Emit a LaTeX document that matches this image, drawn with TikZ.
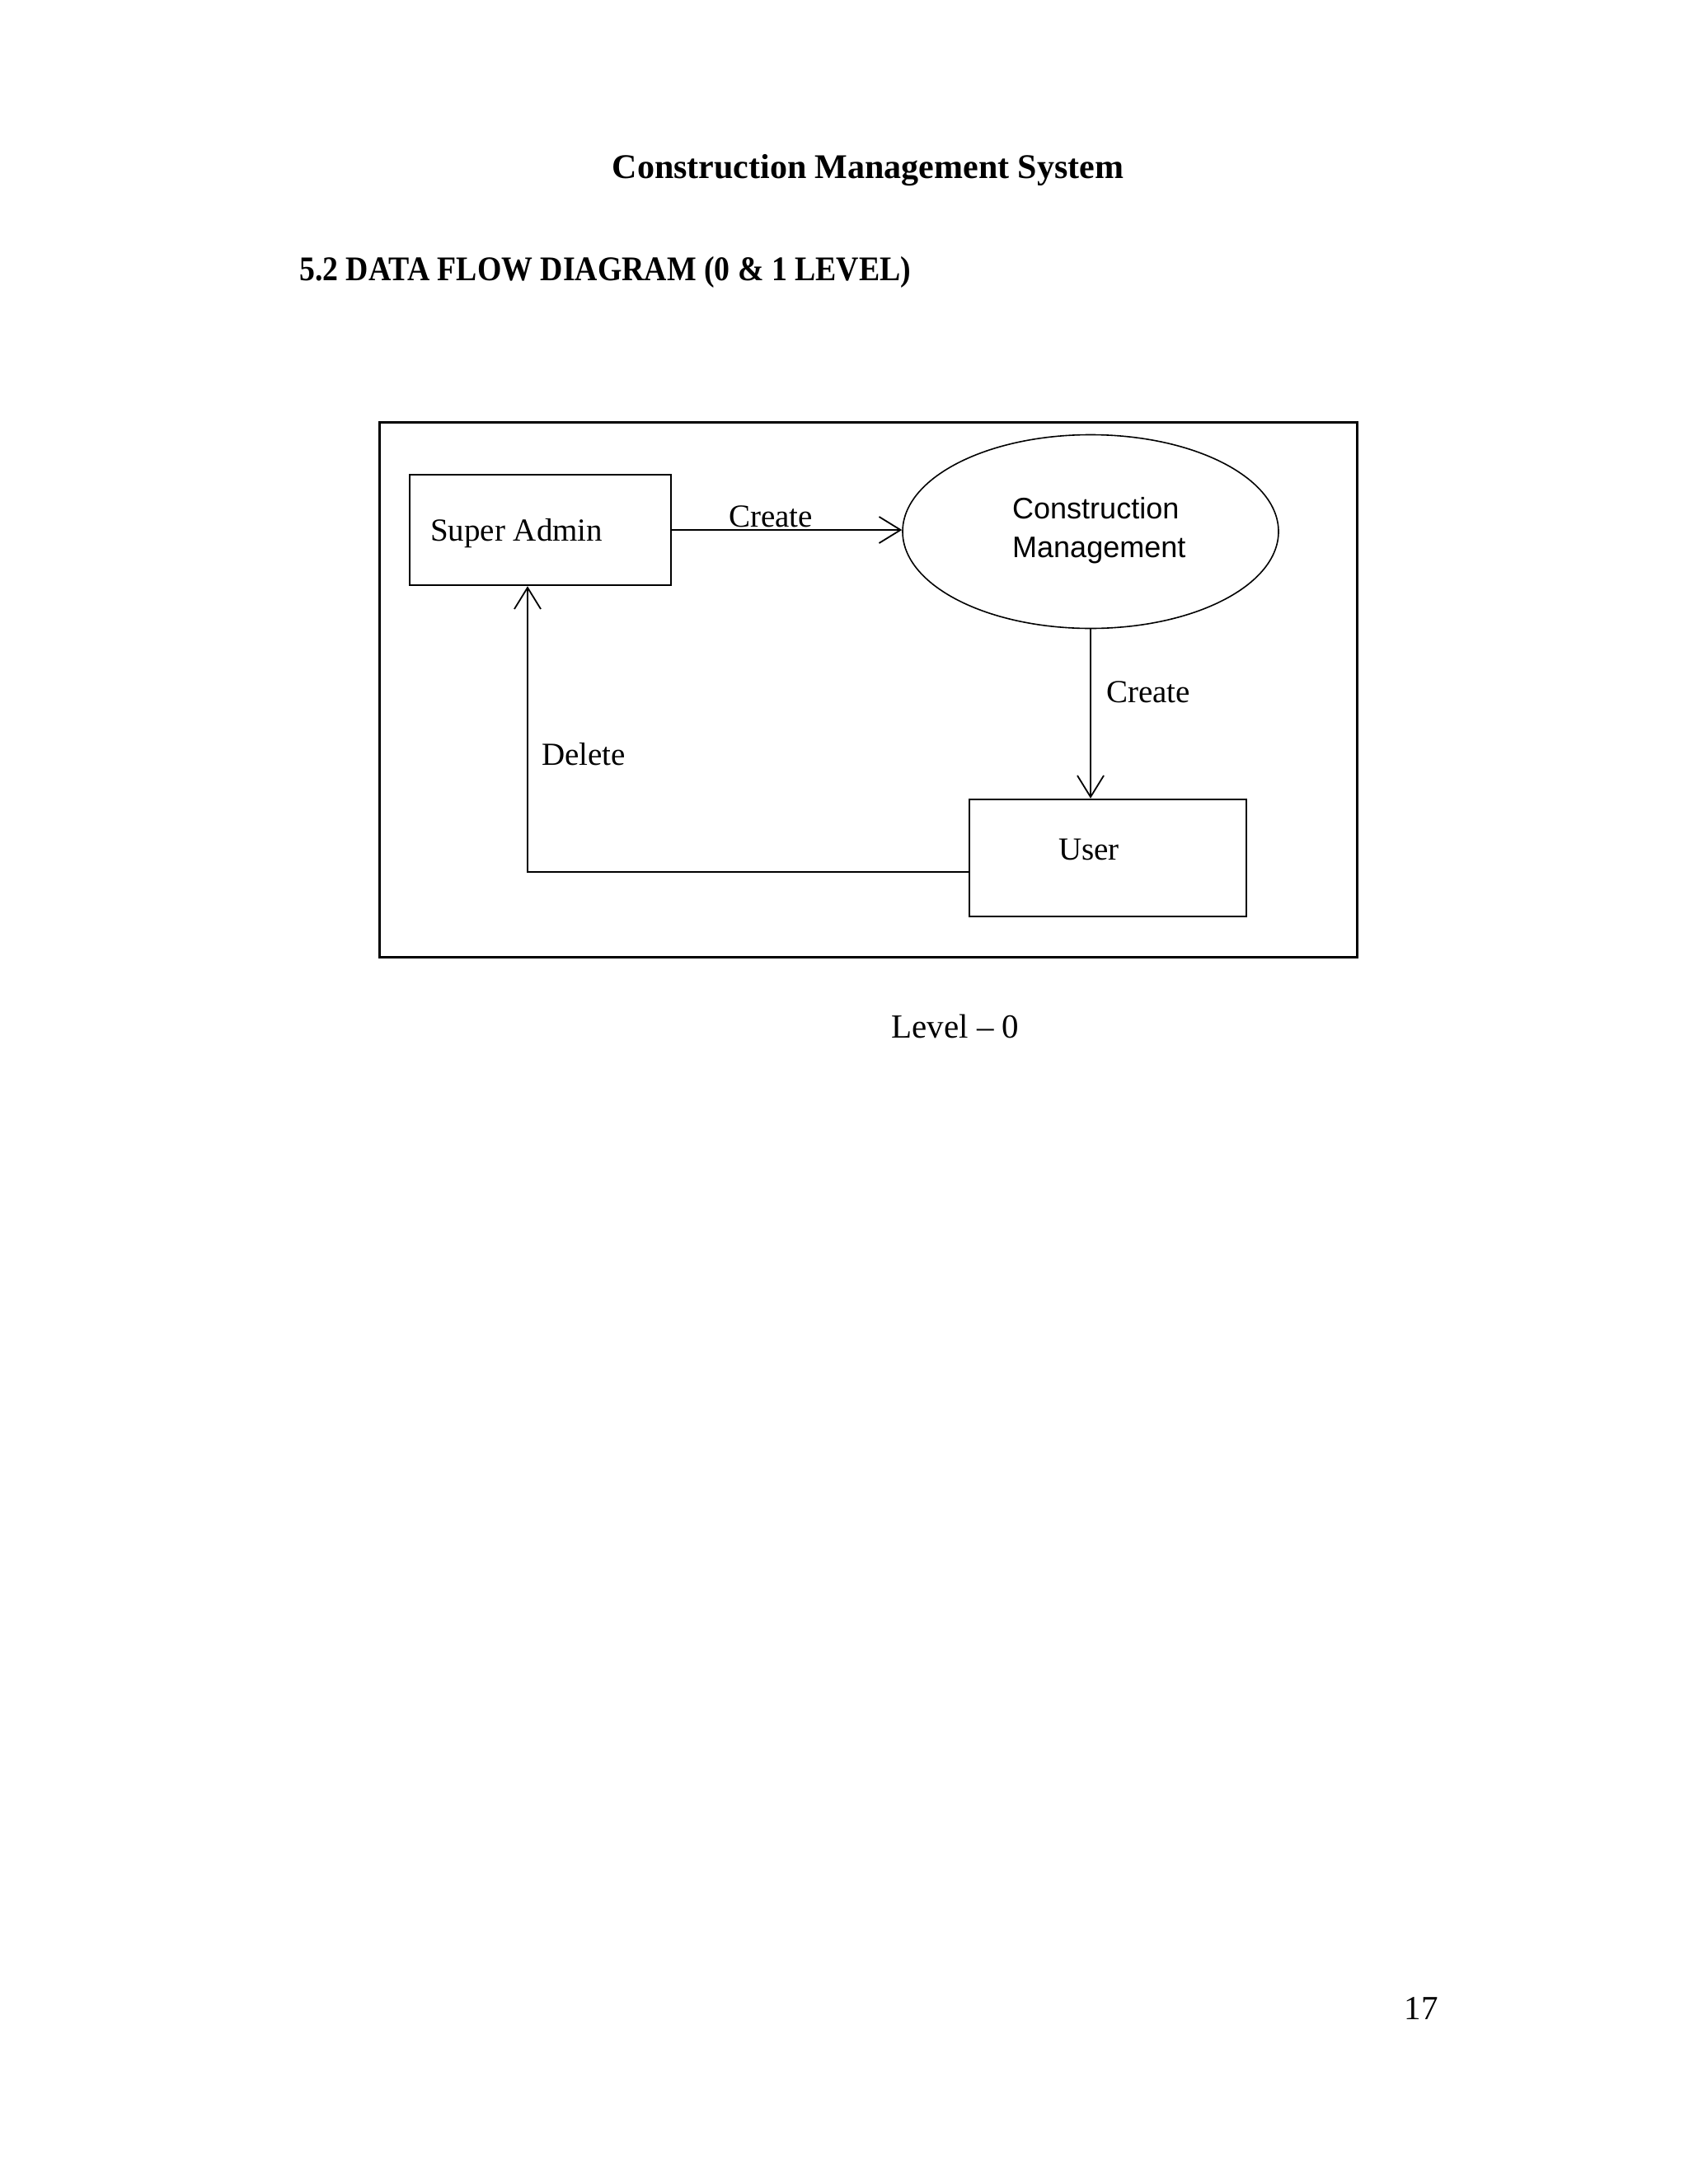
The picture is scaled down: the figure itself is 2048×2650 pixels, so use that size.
\documentclass[tikz,border=0pt]{standalone}
\usepackage{fontspec}
\setmainfont{Liberation Serif}
\newfontfamily\sansf{Liberation Sans}
\usetikzlibrary{shapes.geometric,arrows.meta}
\begin{document}
\begin{tikzpicture}[x=1pt,y=-1pt,
  box/.style={draw,line width=2.5pt,inner sep=0pt},
  lbl/.style={font=\fontsize{39}{46}\selectfont,inner sep=0pt,anchor=base west},
  flow/.style={line width=2pt,-{Straight Barb[length=26pt,width=32pt,line width=1.8pt]}},
  head/.style={font=\bfseries\fontsize{42}{50}\selectfont,inner sep=0pt}]
\useasboundingbox (0,0) rectangle (2048,2650);
\fill[white] (0,0) rectangle (2048,2650);
% page texts
\node[head,anchor=base] (title) at (1053,216) {Construction Management System};
\node[head,anchor=base west] (sec) at (363,340) {\scalebox{0.90}[1]{5.2 DATA FLOW DIAGRAM (0 \& 1 LEVEL)}};
\node[font=\fontsize{41}{48}\selectfont,inner sep=0pt,anchor=base] (lev) at (1159,1259) {Level -- 0};
\node[font=\fontsize{41}{48}\selectfont,inner sep=0pt,anchor=base] (pg) at (1724,2450) {17};
% frame
\draw[line width=3pt] (460,512) rectangle (1646,1161);
% nodes
\node[box,minimum width=317pt,minimum height=134pt] (sa) at (655.5,643) {};
\node[lbl] (salbl) at (522,656) {Super Admin};
\node[draw,ellipse,line width=1.6pt,minimum width=456pt,minimum height=235pt,inner sep=0pt] (cm) at (1323,645) {};
\node[lbl,font=\sansf\fontsize{36}{42}\selectfont] (cm1) at (1228,629) {Construction};
\node[lbl,font=\sansf\fontsize{36}{42}\selectfont] (cm2) at (1228,676) {Management};
\node[box,minimum width=336pt,minimum height=142pt] (user) at (1344,1041) {};
\node[lbl] (userlbl) at (1284,1043) {User};
% connectors
\draw[flow] (sa.east) -- (sa.east -| cm.west);
\node[lbl] (c1) at (884,639) {Create};
\draw[flow] (cm.south) -- (cm.south |- user.north);
\node[lbl] (c2) at (1342,852) {Create};
\coordinate (corner) at (640,1058);
\draw[flow] (user.west |- corner) -- (corner) -- (corner |- sa.south);
\node[lbl] (del) at (657,928) {Delete};
\end{tikzpicture}
\end{document}
